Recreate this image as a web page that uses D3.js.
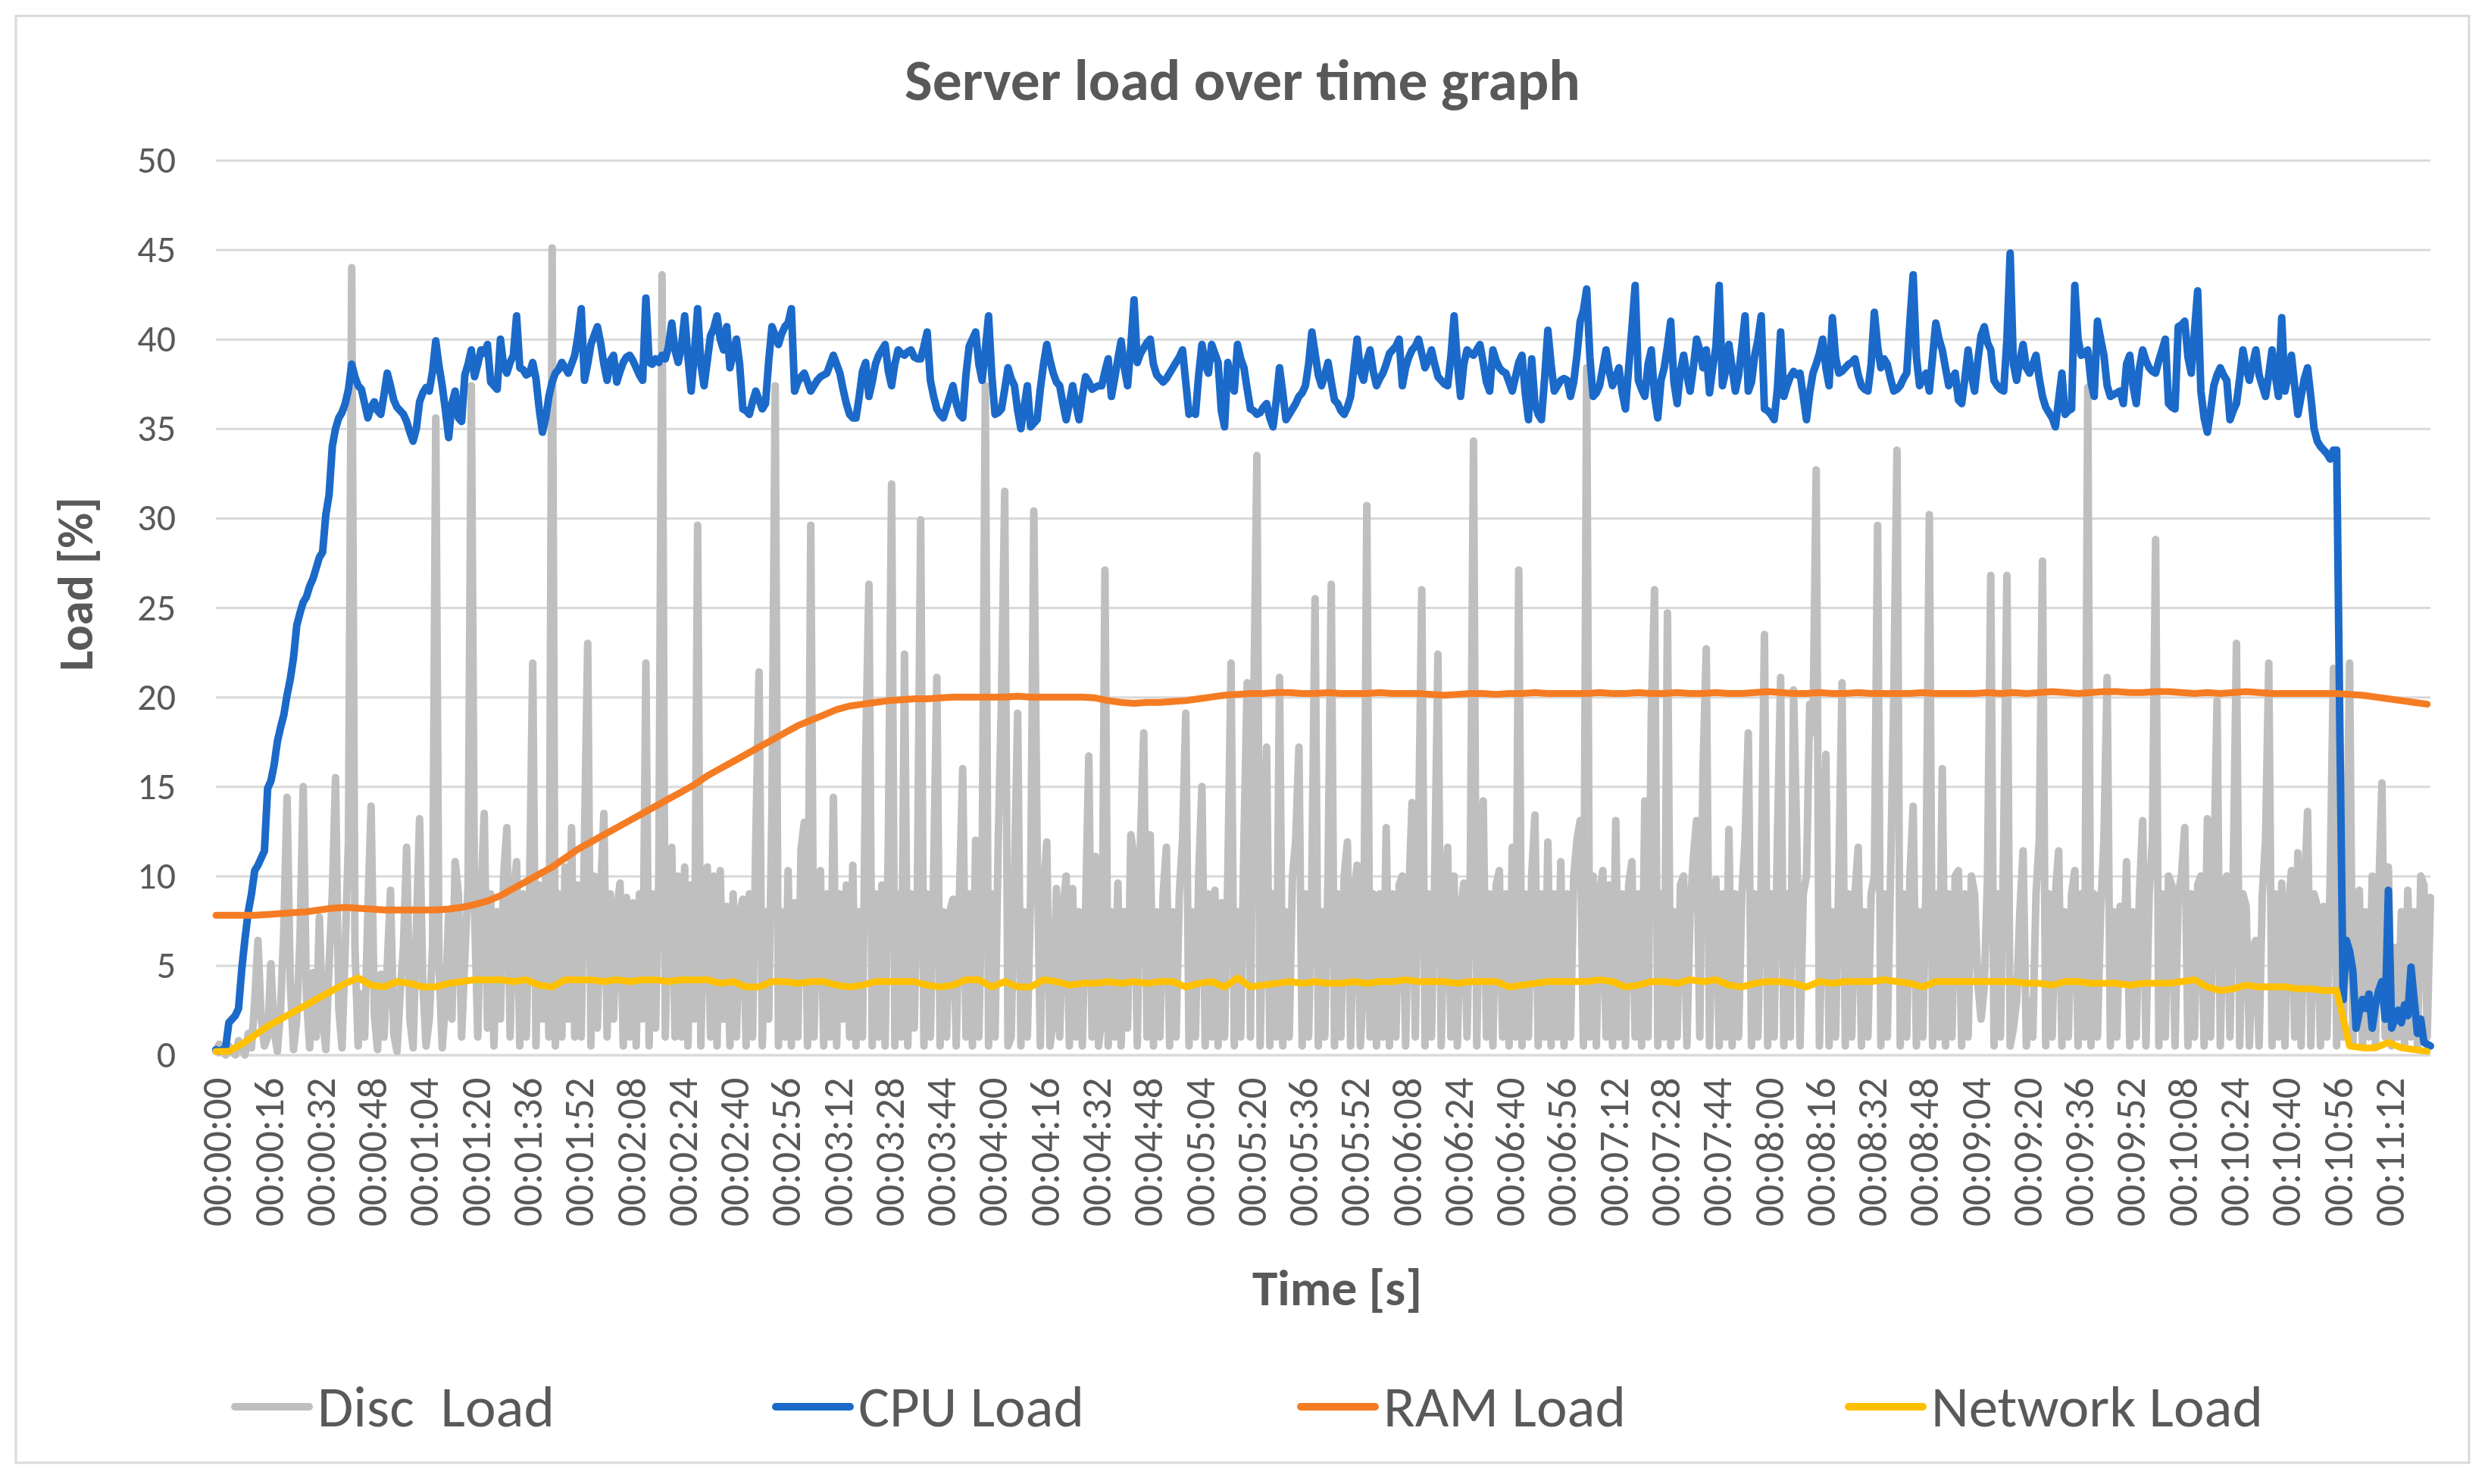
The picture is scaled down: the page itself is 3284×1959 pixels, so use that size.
<!DOCTYPE html>
<html lang="en">
<head>
<meta charset="UTF-8">
<title>Server load over time graph</title>
<script src="https://d3js.org/d3.v7.min.js"></script>
<style>
  body { margin: 0; background: #fff; }
  text { font-family: Calibri, Carlito, Lato, sans-serif; fill: #595959; }
  .line { fill: none; stroke-linejoin: round; stroke-linecap: round; }
</style>
</head>
<body>
<script>
// one value per second, 16 values per row (= one x label step)
var cpuLoad = [
  0.3,0.2,0.3,0.4,1.8,2.0,2.2,2.6,4.8,6.5,8.0,9.0,10.3,10.6,11.0,11.4,
  14.9,15.3,16.2,17.5,18.3,19.0,20.1,21.0,22.2,24.0,24.7,25.3,25.6,26.2,26.6,27.2,
  27.8,28.1,30.2,31.3,34.0,35.0,35.6,35.9,36.4,37.2,38.6,37.9,37.4,37.2,36.4,35.6,
  36.2,36.5,36.0,35.8,36.9,38.1,37.4,36.6,36.2,36.0,35.8,35.4,34.8,34.3,35.0,36.5,
  37.0,37.3,37.1,38.2,39.9,38.5,37.4,36.0,34.5,36.4,37.1,35.6,35.4,38.0,38.6,39.4,
  37.9,38.6,39.4,39.2,39.7,37.6,37.4,37.2,40.0,38.5,38.1,38.7,39.1,41.3,38.4,38.3,
  38.0,38.1,38.7,37.8,36.1,34.8,35.6,36.8,37.6,38.1,38.3,38.7,38.4,38.1,38.6,39.1,
  40.2,41.7,37.7,38.6,39.7,40.2,40.7,39.8,38.6,37.7,38.8,39.1,37.6,38.2,38.7,39.0,
  39.1,38.8,38.4,38.0,37.7,42.3,38.7,38.6,38.9,38.7,39.1,38.9,39.6,40.9,39.4,38.7,
  39.6,41.3,39.0,37.1,39.2,41.7,38.6,37.4,38.8,40.2,40.6,41.3,40.0,39.4,40.7,38.4,
  39.2,40.0,38.6,36.1,36.0,35.8,36.5,37.1,36.6,36.1,36.4,38.8,40.7,40.2,39.7,40.3,
  40.7,40.9,41.7,37.1,37.6,37.9,38.1,37.6,37.1,37.4,37.7,37.9,38.0,38.1,38.6,39.1,
  38.6,38.1,37.2,36.4,35.8,35.6,35.6,36.8,38.2,38.7,36.8,37.6,38.6,39.1,39.4,39.7,
  38.2,37.4,38.6,39.4,39.2,39.1,39.3,39.4,39.0,38.9,38.9,39.6,40.4,37.7,36.8,36.1,
  35.8,35.6,36.2,36.8,37.4,36.4,35.8,35.6,38.0,39.6,40.0,40.4,38.6,37.7,39.4,41.3,
  38.0,35.8,35.9,36.1,37.2,38.4,37.8,37.4,36.0,35.0,36.2,37.4,35.1,35.3,35.5,37.2,
  38.6,39.7,38.8,38.1,37.6,37.4,36.4,35.5,36.4,37.4,36.4,35.5,36.8,37.9,37.6,37.2,
  37.3,37.4,37.4,38.2,38.9,36.8,37.8,38.9,39.9,38.4,37.4,39.6,42.2,38.7,39.2,39.5,
  39.8,40.0,38.6,38.0,37.8,37.6,37.8,38.1,38.4,38.7,39.0,39.4,37.6,35.8,36.0,35.8,
  38.0,39.7,38.6,38.1,39.7,39.2,38.7,36.0,35.1,38.7,37.6,37.1,39.7,38.9,38.4,37.2,
  36.1,36.0,35.8,35.9,36.2,36.4,35.6,35.1,36.6,38.4,37.0,35.5,35.8,36.1,36.4,36.8,
  37.0,37.4,38.6,40.4,39.2,38.0,37.4,38.0,38.7,37.6,36.6,36.4,36.0,35.8,36.2,36.8,
  38.4,40.0,38.2,37.7,38.8,39.4,38.2,37.4,37.8,38.1,38.6,39.2,39.4,39.6,40.0,37.4,
  38.4,39.0,39.4,39.6,40.0,39.2,38.4,38.8,39.4,38.6,37.9,37.7,37.5,37.4,39.0,41.3,
  38.7,36.8,38.6,39.4,39.2,39.1,39.4,39.7,38.7,37.6,37.1,39.4,38.8,38.4,38.2,38.1,
  37.6,37.1,37.9,38.7,39.1,37.0,35.5,38.9,36.4,35.8,35.5,37.8,40.5,38.6,37.1,37.4,
  37.7,37.8,37.7,36.8,37.6,39.1,41.0,41.6,42.8,39.0,36.8,37.0,37.4,38.4,39.4,38.2,
  37.4,37.9,38.4,37.0,36.1,38.4,40.6,43.0,37.7,37.2,36.8,38.6,39.4,36.8,35.6,37.7,
  38.4,39.6,41.0,37.6,36.4,38.2,39.1,38.0,37.1,38.4,40.0,39.4,38.4,39.4,37.0,38.4,
  39.6,43.0,37.4,38.2,39.7,38.4,37.1,38.0,39.6,41.3,37.1,37.6,39.1,40.0,41.3,36.1,
  36.0,35.8,35.5,37.2,40.4,36.8,37.4,37.9,38.2,38.0,38.1,36.8,35.5,37.0,38.1,38.6,
  39.2,40.0,38.4,37.4,41.2,39.0,38.1,38.2,38.4,38.6,38.7,38.9,38.0,37.4,37.2,37.1,
  38.6,41.5,39.6,38.4,38.9,38.6,37.8,37.1,37.2,37.4,37.8,38.1,41.0,43.6,39.0,37.4,
  37.8,38.1,37.1,39.0,40.9,40.0,39.4,38.4,37.4,37.8,38.1,36.6,36.4,37.8,39.4,38.0,
  37.1,38.8,40.2,40.7,39.8,39.4,37.7,37.4,37.2,37.1,40.0,44.8,38.6,37.7,38.8,39.7,
  38.4,38.1,38.6,39.1,37.8,36.8,36.2,35.9,35.6,35.1,36.6,38.1,35.8,36.0,36.1,43.0,
  40.0,39.1,39.2,39.4,37.6,36.8,41.0,40.0,39.1,37.4,36.8,36.9,37.0,37.1,36.4,38.6,
  39.1,37.4,36.4,38.4,39.4,38.8,38.4,38.2,38.1,38.8,39.4,40.0,36.4,36.2,36.1,40.7,
  40.8,41.0,39.0,38.1,40.4,42.7,37.1,35.6,34.8,36.0,37.4,38.0,38.4,38.0,37.7,35.5,
  36.0,36.4,37.8,39.4,38.4,37.7,38.6,39.4,38.0,37.4,36.8,38.0,39.4,38.0,36.8,41.2,
  37.1,38.0,39.1,37.4,35.8,36.8,37.8,38.4,36.8,35.0,34.3,34.0,33.8,33.6,33.3,33.8,
  33.8,18.0,3.1,6.4,5.8,4.7,1.5,2.4,3.1,2.6,3.4,1.5,2.8,3.6,4.1,2.0,
  9.2,1.5,2.0,2.5,1.8,2.8,2.2,4.9,3.0,1.2,2.0,0.7,0.6,0.5
];

var discLoad = [
  0.2,0.6,0.3,0.0,0.5,0.2,0.0,0.8,0.3,0.0,1.2,0.4,3.0,6.4,2.0,0.5,
  1.0,5.1,1.4,0.2,2.5,7.0,14.4,4.0,0.3,2.0,6.5,15.0,3.2,0.4,4.6,1.0,
  7.7,2.0,0.3,5.0,9.0,15.5,2.6,0.4,6.0,12.0,44.0,6.0,0.5,3.4,1.0,8.0,
  13.9,2.2,0.3,4.5,1.0,5.0,9.2,1.2,0.2,3.5,6.0,11.6,2.0,0.4,7.0,13.2,
  4.0,0.5,2.0,6.0,35.6,5.0,0.4,3.0,8.0,2.0,10.8,9.0,1.0,5.5,9.5,37.4,
  8.0,1.0,9.0,13.5,1.5,9.0,0.5,8.0,2.0,10.0,12.7,1.0,9.0,10.8,0.5,9.0,
  1.0,9.0,21.9,0.5,9.5,2.0,10.0,1.0,45.1,0.5,9.0,1.0,10.5,2.0,12.7,1.0,
  9.5,1.0,12.0,23.0,0.5,10.0,1.5,9.0,13.5,1.0,9.0,2.0,8.0,9.6,0.5,8.8,
  1.0,8.5,0.5,9.0,2.0,21.9,0.5,9.0,1.5,10.0,43.6,1.0,9.5,11.6,1.0,10.0,
  1.0,10.5,0.5,9.5,2.0,29.6,0.5,9.0,10.5,1.0,10.0,0.5,10.3,2.0,8.3,0.5,
  9.0,1.0,8.0,8.7,0.5,9.0,1.0,12.0,21.4,0.5,8.0,2.0,14.0,37.4,0.5,8.0,
  1.0,10.3,0.5,8.5,1.0,11.5,13.0,0.5,29.6,1.0,9.5,10.3,0.5,9.0,1.0,14.4,
  0.5,9.0,2.0,9.5,1.0,10.6,0.5,8.0,1.0,17.0,26.3,0.5,9.0,1.0,9.5,0.5,
  12.0,31.9,0.5,9.0,1.0,22.4,0.5,9.0,1.5,9.5,29.9,0.5,9.0,1.0,10.0,21.1,
  0.5,8.0,1.0,8.0,8.7,0.5,9.0,16.0,1.0,9.0,0.5,12.0,1.0,10.0,37.4,0.5,
  9.0,1.0,12.0,20.0,31.5,0.5,1.0,10.0,19.1,0.5,8.0,1.0,9.0,30.4,12.0,0.5,
  9.0,11.9,0.5,2.0,9.3,1.0,8.0,10.0,0.5,9.3,1.0,8.0,0.5,8.0,16.7,1.0,
  11.1,0.5,2.0,27.1,0.5,8.0,1.0,9.6,0.5,8.0,1.5,12.3,11.0,0.5,12.0,18.0,
  1.0,12.3,0.5,8.0,1.0,9.0,11.6,0.5,8.0,1.0,9.0,12.0,19.1,0.5,8.0,1.0,
  10.0,15.0,0.5,9.0,1.0,9.2,0.5,8.5,1.0,10.0,21.9,0.5,8.0,1.0,12.0,20.8,
  1.0,19.0,33.5,0.5,10.0,17.2,0.5,9.0,1.0,21.1,0.5,8.0,1.0,10.0,12.0,17.2,
  0.5,9.0,1.0,10.0,25.5,0.5,8.0,1.0,10.0,26.3,0.5,9.0,1.0,10.0,11.9,0.5,
  9.0,10.6,0.5,4.0,30.7,1.0,9.0,0.5,9.0,1.0,12.7,0.5,9.0,1.0,9.5,10.0,
  0.5,9.0,14.1,1.0,12.0,26.0,0.5,9.0,1.0,10.0,22.4,0.5,9.0,11.6,1.0,10.0,
  0.5,8.0,9.6,1.0,10.0,34.3,0.5,10.0,14.2,1.0,9.0,0.5,9.5,10.3,1.0,9.0,
  0.5,11.6,1.0,27.1,0.5,9.0,1.0,10.0,13.4,0.5,9.0,1.0,11.9,0.5,9.0,1.0,
  10.8,0.5,9.0,1.0,10.0,12.0,13.1,0.5,38.4,1.0,10.0,0.5,9.0,10.3,1.0,9.5,
  0.5,13.1,1.0,9.0,0.5,9.5,10.8,1.0,9.0,0.5,14.2,1.0,19.0,26.0,0.5,9.0,
  1.0,24.7,0.5,8.0,1.0,9.5,10.0,0.5,8.0,11.0,13.1,1.0,16.0,22.7,0.5,9.0,
  9.8,0.5,9.0,1.0,12.6,0.5,9.0,1.0,9.0,12.0,18.0,0.5,9.0,1.0,10.0,23.5,
  0.5,9.0,1.0,12.0,21.1,0.5,9.0,1.0,20.4,12.0,0.5,9.0,10.0,19.6,18.0,32.7,
  0.5,9.0,16.8,0.5,8.0,1.0,10.0,20.8,0.5,9.0,1.0,9.0,11.6,0.5,8.0,1.0,
  9.0,10.0,29.6,0.5,9.0,1.0,10.0,20.0,33.8,0.5,9.0,1.0,10.0,13.9,0.5,8.0,
  1.0,10.0,30.2,0.5,9.0,1.0,16.0,0.5,9.0,1.0,10.0,10.3,0.5,9.0,1.0,10.0,
  9.0,4.0,2.0,3.8,10.0,26.8,0.5,9.0,1.0,12.0,26.8,0.5,1.5,3.0,8.0,11.4,
  0.5,3.0,1.0,9.0,12.0,27.6,0.5,9.0,1.0,9.0,11.4,0.5,8.0,1.0,9.0,10.3,
  0.5,9.0,1.0,37.3,0.5,9.0,1.0,8.0,12.0,21.1,0.5,8.0,1.0,8.3,4.0,10.8,
  0.5,8.0,1.0,9.0,13.1,0.5,9.0,12.0,28.8,0.5,9.0,1.0,10.0,9.5,0.5,9.0,
  10.0,12.7,0.5,9.0,1.0,9.5,10.0,0.5,13.2,1.0,10.0,19.8,0.5,9.0,10.0,1.0,
  10.0,23.0,0.5,9.0,8.3,0.5,6.0,6.4,0.5,9.0,12.0,21.9,0.5,9.0,1.0,9.6,
  0.5,8.0,10.3,1.0,11.3,0.5,9.0,13.6,0.5,9.0,8.3,0.5,8.3,1.0,10.0,21.6,
  0.5,9.0,1.0,9.0,21.9,0.5,9.0,9.2,0.5,8.0,1.0,10.0,0.5,9.0,15.2,1.0,
  10.5,0.5,6.0,1.0,8.0,0.5,9.2,1.0,8.0,0.5,10.0,9.5,1.0,8.8
];

// smoother series, one value every 4 seconds
var ramLoad = [
  7.8,7.8,7.8,7.8,7.85,7.9,7.95,8.0,8.1,8.2,8.25,8.2,8.15,8.1,8.1,8.1,
  8.1,8.1,8.15,8.25,8.4,8.6,8.9,9.3,9.7,10.1,10.5,11.0,11.5,11.9,12.3,12.7,
  13.1,13.5,13.9,14.3,14.7,15.1,15.6,16.0,16.4,16.8,17.2,17.6,18.0,18.4,18.7,19.0,
  19.3,19.5,19.6,19.7,19.8,19.85,19.9,19.9,19.95,20.0,20.0,20.0,20.0,20.0,20.05,20.0,
  20.0,20.0,20.0,20.0,19.95,19.8,19.7,19.65,19.7,19.7,19.75,19.8,19.9,20.0,20.1,20.15,
  20.2,20.2,20.25,20.25,20.2,20.2,20.25,20.2,20.2,20.2,20.25,20.2,20.2,20.2,20.15,20.1,
  20.15,20.2,20.2,20.15,20.2,20.2,20.25,20.2,20.2,20.2,20.2,20.25,20.2,20.2,20.25,20.2,
  20.2,20.25,20.2,20.2,20.25,20.2,20.2,20.25,20.3,20.25,20.2,20.2,20.25,20.2,20.2,20.25,
  20.2,20.2,20.2,20.2,20.25,20.2,20.2,20.2,20.2,20.25,20.2,20.25,20.2,20.25,20.3,20.25,
  20.2,20.25,20.3,20.3,20.25,20.25,20.3,20.3,20.25,20.2,20.25,20.2,20.25,20.3,20.25,20.2,
  20.2,20.2,20.2,20.2,20.2,20.15,20.1,20.0,19.9,19.8,19.7,19.6
];

var netLoad = [
  0.2,0.2,0.6,1.1,1.6,2.0,2.4,2.8,3.2,3.6,4.0,4.3,3.9,3.8,4.1,4.0,
  3.8,3.8,4.0,4.1,4.2,4.2,4.2,4.1,4.2,3.9,3.8,4.2,4.2,4.2,4.1,4.2,
  4.1,4.2,4.2,4.1,4.2,4.2,4.2,4.0,4.1,3.8,3.8,4.1,4.1,4.0,4.1,4.1,
  3.9,3.8,3.9,4.1,4.1,4.1,4.1,3.9,3.8,3.9,4.2,4.2,3.8,4.1,3.8,3.8,
  4.2,4.1,3.9,4.0,4.0,4.1,4.0,4.1,4.0,4.1,4.1,3.8,4.0,4.1,3.8,4.3,
  3.8,3.9,4.0,4.1,4.0,4.1,4.0,4.0,4.1,4.0,4.1,4.1,4.2,4.1,4.1,4.1,
  4.0,4.1,4.1,4.1,3.8,3.9,4.0,4.1,4.1,4.1,4.1,4.2,4.1,3.8,3.9,4.1,
  4.1,4.0,4.2,4.1,4.2,3.9,3.8,4.0,4.1,4.1,4.0,3.8,4.1,4.0,4.1,4.1,
  4.1,4.2,4.1,4.0,3.8,4.1,4.1,4.1,4.1,4.1,4.1,4.1,4.0,4.0,3.9,4.1,
  4.1,4.0,4.0,4.0,3.9,4.0,4.0,4.0,4.1,4.2,3.8,3.6,3.7,3.9,3.8,3.8,
  3.8,3.7,3.7,3.6,3.6,0.5,0.4,0.4,0.7,0.4,0.3,0.2
];
var slowStep = 4;

var yTicks = [0,5,10,15,20,25,30,35,40,45,50];
var xTickLabels = ["00:00:00","00:00:16","00:00:32","00:00:48","00:01:04","00:01:20","00:01:36",
  "00:01:52","00:02:08","00:02:24","00:02:40","00:02:56","00:03:12","00:03:28","00:03:44",
  "00:04:00","00:04:16","00:04:32","00:04:48","00:05:04","00:05:20","00:05:36","00:05:52",
  "00:06:08","00:06:24","00:06:40","00:06:56","00:07:12","00:07:28","00:07:44","00:08:00",
  "00:08:16","00:08:32","00:08:48","00:09:04","00:09:20","00:09:36","00:09:52","00:10:08",
  "00:10:24","00:10:40","00:10:56","00:11:12"];
var seriesNames = ["Disc  Load","CPU Load","RAM Load","Network Load"];

var W = 3284, H = 1959;
var plotL = 285, plotR = 3208, plotT = 211.5, plotB = 1392.6;

var svg = d3.select("body").append("svg").attr("width", W).attr("height", H);

svg.append("rect").attr("x", 21).attr("y", 21).attr("width", 3238).attr("height", 1910)
  .attr("fill", "#fff").attr("stroke", "#d9d9d9").attr("stroke-width", 3);

var x = d3.scaleLinear().domain([0, cpuLoad.length - 1]).range([plotL, plotR]);
var y = d3.scaleLinear().domain([0, 50]).range([plotB, plotT]);

// y axis + gridlines
var gy = svg.append("g").attr("transform", "translate(" + plotL + ",0)")
  .call(d3.axisLeft(y).tickValues(yTicks).tickSize(-(plotR - plotL)).tickPadding(53));
gy.select(".domain").remove();
gy.selectAll(".tick line").attr("stroke", "#d9d9d9").attr("stroke-width", 3);
gy.selectAll(".tick text").attr("font-size", 50).attr("fill", "#595959")
  .style("font-family", "Calibri, Carlito, Lato, sans-serif");

// x axis, rotated labels every 16 s
var tickSec = xTickLabels.map(function(d, i) { return i * 16; });
var gx = svg.append("g").attr("transform", "translate(0," + plotB + ")")
  .call(d3.axisBottom(x).tickValues(tickSec).tickSize(0)
    .tickFormat(function(d, i) { return xTickLabels[i]; }));
gx.select(".domain").attr("stroke", "#d9d9d9").attr("stroke-width", 3);
gx.selectAll(".tick text")
  .attr("transform", "rotate(-90)")
  .attr("x", -30).attr("y", 0).attr("dy", "0.36em")
  .style("text-anchor", "end")
  .attr("font-size", 55).attr("fill", "#595959")
  .style("font-family", "Calibri, Carlito, Lato, sans-serif");

var lineFast = d3.line().x(function(d, i) { return x(i); }).y(function(d) { return y(d); });
var lineSlow = d3.line().x(function(d, i) { return x(i * slowStep); }).y(function(d) { return y(d); });

svg.append("path").datum(discLoad).attr("class", "line")
  .attr("stroke", "#bfbfbf").attr("stroke-width", 10).attr("d", lineFast);
svg.append("path").datum(cpuLoad).attr("class", "line")
  .attr("stroke", "#1b6ac9").attr("stroke-width", 10).attr("d", lineFast);
svg.append("path").datum(ramLoad).attr("class", "line")
  .attr("stroke", "#f57c22").attr("stroke-width", 9).attr("d", lineSlow);
svg.append("path").datum(netLoad).attr("class", "line")
  .attr("stroke", "#ffc000").attr("stroke-width", 9).attr("d", lineSlow);

function fitWidth(sel, target) {
  var w = sel.node().getComputedTextLength();
  var fs = parseFloat(sel.attr("font-size"));
  sel.attr("font-size", fs * target / w);
}

// title
var title = svg.append("text").attr("x", 1640).attr("y", 105)
  .attr("text-anchor", "middle").attr("dominant-baseline", "central")
  .attr("font-weight", "bold").attr("font-size", 60).text("Server load over time graph");
fitWidth(title, 892);

// axis titles
var yTitle = svg.append("text").attr("transform", "translate(100,771) rotate(-90)")
  .attr("text-anchor", "middle").attr("dominant-baseline", "central")
  .attr("font-weight", "bold").attr("font-size", 56).text("Load [%]");
fitWidth(yTitle, 230);
var xTitle = svg.append("text").attr("x", 1765).attr("y", 1700)
  .attr("text-anchor", "middle").attr("dominant-baseline", "central")
  .attr("font-weight", "bold").attr("font-size", 56).text("Time [s]");
fitWidth(xTitle, 224);

// legend
var legColors = ["#bfbfbf", "#1b6ac9", "#f57c22", "#ffc000"];
var legX = [310, 1024, 1717, 2440];
var legY = 1857;
var leg = svg.append("g").selectAll("g").data(seriesNames).enter().append("g");
leg.append("line")
  .attr("x1", function(d, i) { return legX[i]; })
  .attr("x2", function(d, i) { return legX[i] + 98; })
  .attr("y1", legY).attr("y2", legY)
  .attr("stroke", function(d, i) { return legColors[i]; })
  .attr("stroke-width", 10).attr("stroke-linecap", "round");
var legText = leg.append("text")
  .attr("x", function(d, i) { return legX[i] + 109; })
  .attr("y", legY).attr("dominant-baseline", "central")
  .attr("font-size", 66).style("white-space", "pre")
  .text(function(d) { return d; });
fitWidth(d3.select(legText.nodes()[3]), 438);
legText.attr("font-size", d3.select(legText.nodes()[3]).attr("font-size"));
</script>
</body>
</html>
